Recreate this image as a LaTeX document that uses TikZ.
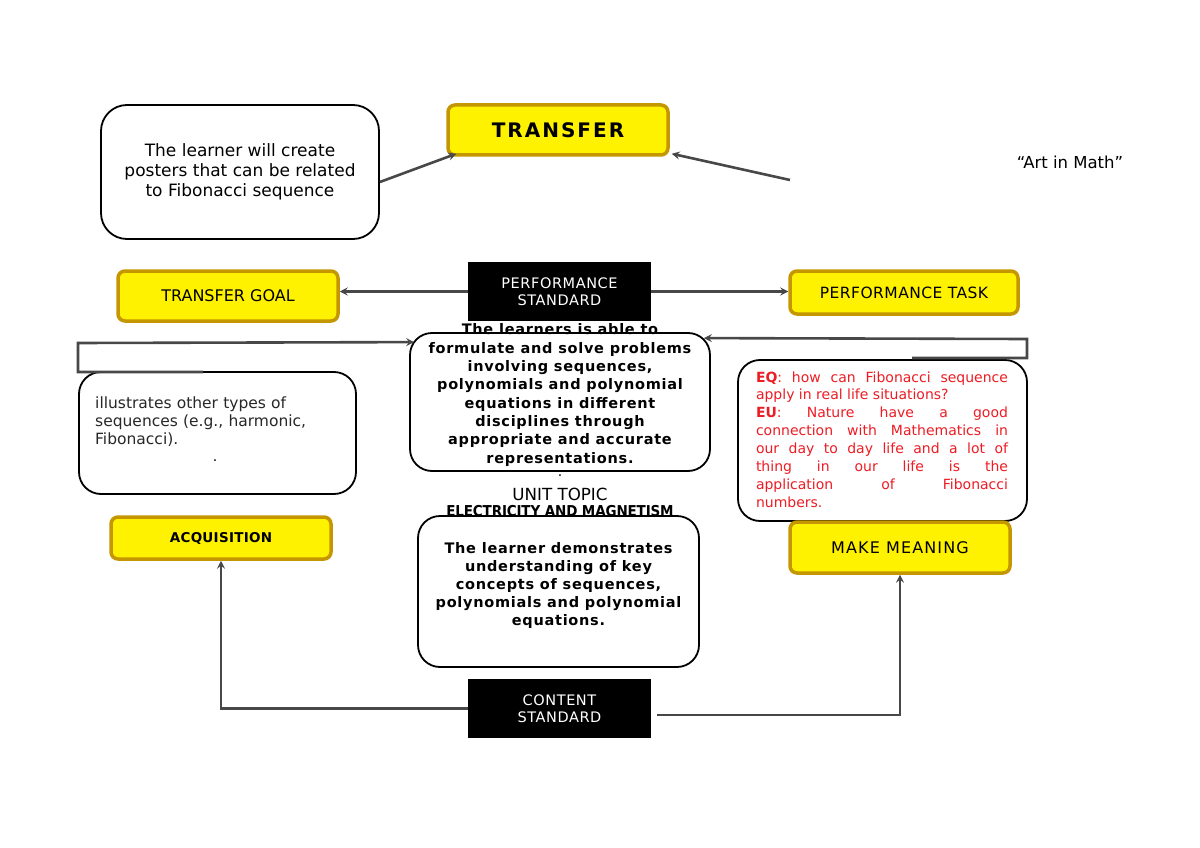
\documentclass[tikz,border=0pt]{standalone}
\usepackage{fontspec}
\setmainfont{DejaVu Sans}
\newfontfamily\cond{DejaVu Sans Condensed}
\usetikzlibrary{arrows.meta}
\definecolor{ybord}{RGB}{196,150,0}
\definecolor{lgray}{RGB}{72,72,72}
\definecolor{eqred}{RGB}{237,28,36}
\definecolor{dtext}{RGB}{40,40,40}
\begin{document}
\begin{tikzpicture}[x=1pt,y=-1pt,
  rbox/.style={draw=black, line width=1.8pt, rounded corners=22pt, inner sep=0pt},
  ybox/.style={draw=ybord, line width=3.5pt, fill=yellow, rounded corners=7pt, inner sep=0pt, align=center},
  kbox/.style={fill=black, text=white, inner sep=0pt, align=center,
     font=\fontsize{14.5}{17}\selectfont\addfontfeature{LetterSpace=4}},
  conn/.style={draw=lgray, line width=2.6pt, -{Stealth[length=8pt,width=8pt,inset=3pt]}},
  btext/.style={align=center, inner sep=0pt, font=\fontsize{14.5}{18.3}\selectfont\bfseries\addfontfeature{LetterSpace=5}},
]
\useasboundingbox (0,0) rectangle (1200,848);
\fill[white] (0,0) rectangle (1200,848);

% top row
\node[rbox, rounded corners=26pt, minimum width=278pt, minimum height=134pt, align=center,
      font=\fontsize{17}{20}\selectfont] (learner) at (240,172)
      {The learner will create\\posters that can be related\\to Fibonacci sequence};
\node[ybox, minimum width=220pt, minimum height=50pt,
      font=\fontsize{20}{24}\selectfont\bfseries\addfontfeature{LetterSpace=10}] (transfer) at (558,130) {TRANSFER};
\node[inner sep=0pt, font=\fontsize{16.5}{20}\selectfont] (artmath) at (1070,162) {“Art in Math”};
\coordinate (aw) at (790,180);

% second row
\node[ybox, minimum width=220pt, minimum height=50pt, font=\fontsize{16}{20}\selectfont] (tgoal) at (228,296) {TRANSFER GOAL};
\node[kbox, minimum width=183pt, minimum height=59pt] (pstd) at (559.5,291.5) {PERFORMANCE\\STANDARD};
\node[ybox, minimum width=228pt, minimum height=43pt,
      font=\fontsize{15.5}{19}\selectfont\addfontfeature{LetterSpace=3}] (ptask) at (904,292.5) {PERFORMANCE TASK};

% central performance box
\node[rbox, minimum width=300pt, minimum height=138pt] (perf) at (560,402) {};
\node[btext] (perftxt) at (560,395)
  {The learners is able to\\formulate and solve problems\\involving sequences,\\polynomials and polynomial\\equations in different\\disciplines through\\appropriate and accurate\\representations.};
\node[inner sep=0pt, font=\fontsize{14}{16}\selectfont] (pdot) at (560,476) {.};
\node[inner sep=0pt, font=\fontsize{16.7}{18}\selectfont] (unit) at (560,494) {UNIT TOPIC};

% content box
\node[rbox, minimum width=281pt, minimum height=151pt] (content) at (558.5,591.5) {};
\node[btext, font=\fontsize{14.5}{18}\selectfont\bfseries\addfontfeature{LetterSpace=5}] (contenttxt) at (558.5,585)
  {The learner demonstrates\\understanding of key\\concepts of sequences,\\polynomials and polynomial\\equations.};
\node[inner sep=0pt, font=\cond\bfseries\fontsize{15}{16}\selectfont\addfontfeature{LetterSpace=-1}] (elec) at (560,511) {ELECTRICITY AND MAGNETISM};
\node[kbox, minimum width=183pt, minimum height=59pt] (cstd) at (559.5,708.5) {CONTENT\\STANDARD};

% left column
\node[rbox, minimum width=277pt, minimum height=122pt] (illus) at (217.5,433) {};
\node[anchor=west, inner sep=0pt, text width=255pt, align=left, text=dtext,
      font=\fontsize{15.5}{18}\selectfont] (illustxt) at (95,422)
      {illustrates other types of\\sequences (e.g., harmonic,\\Fibonacci).};
\node[inner sep=0pt, font=\fontsize{14}{16}\selectfont] (illusdot) at (215,461) {.};
\node[ybox, minimum width=220pt, minimum height=42pt,
      font=\fontsize{13.5}{16}\selectfont\bfseries\addfontfeature{LetterSpace=2}] (acq) at (221,538) {ACQUISITION};

% right column
\node[rbox, minimum width=289pt, minimum height=161pt] (eq) at (882.5,440.5) {};
\node[inner sep=0pt, text width=252pt, align=justify, text=eqred,
      font=\fontsize{14}{17.9}\selectfont] (eqtxt) at (882,439.5)
  {\textbf{EQ}: how can Fibonacci sequence\linebreak apply in real life situations?\par
   \textbf{EU}: Nature have a good\linebreak connection with Mathematics in\linebreak our day to day life and a lot of\linebreak thing in our life is the\linebreak application of Fibonacci\linebreak numbers.};
\node[ybox, minimum width=220pt, minimum height=51pt,
      font=\fontsize{16}{20}\selectfont\addfontfeature{LetterSpace=7}] (mm) at (900,547.5) {MAKE MEANING};

% connectors
\draw[conn] ([yshift=-10pt]learner.east) -- ([xshift=10pt,yshift=3pt]transfer.south west);
\draw[conn] (aw) -- ([xshift=2pt,yshift=3pt]transfer.south east);
\draw[conn] (pstd.west) -- (pstd.west -| tgoal.east);
\draw[conn] (pstd.east) -- (pstd.east -| ptask.west);

\coordinate (lbs) at (203,372);
\coordinate (lbA) at (78,372);
\coordinate (lbB) at (78,343);
\draw[conn] (lbs) -- (lbA) -- (lbB) -- ([xshift=5pt,yshift=-10pt]perf.north west);

\coordinate (rbs) at (912,358);
\coordinate (rbA) at (1027,358);
\coordinate (rbB) at (1027,339);
\draw[conn] (rbs) -- (rbA) -- (rbB) -- ([xshift=-7pt,yshift=-6pt]perf.north east);

\draw[conn] (cstd.west) -- (cstd.west -| acq.south) -- (acq.south);
\draw[conn] ([xshift=6pt,yshift=-6.5pt]cstd.east) -| (mm.south);
\end{tikzpicture}
\end{document}
